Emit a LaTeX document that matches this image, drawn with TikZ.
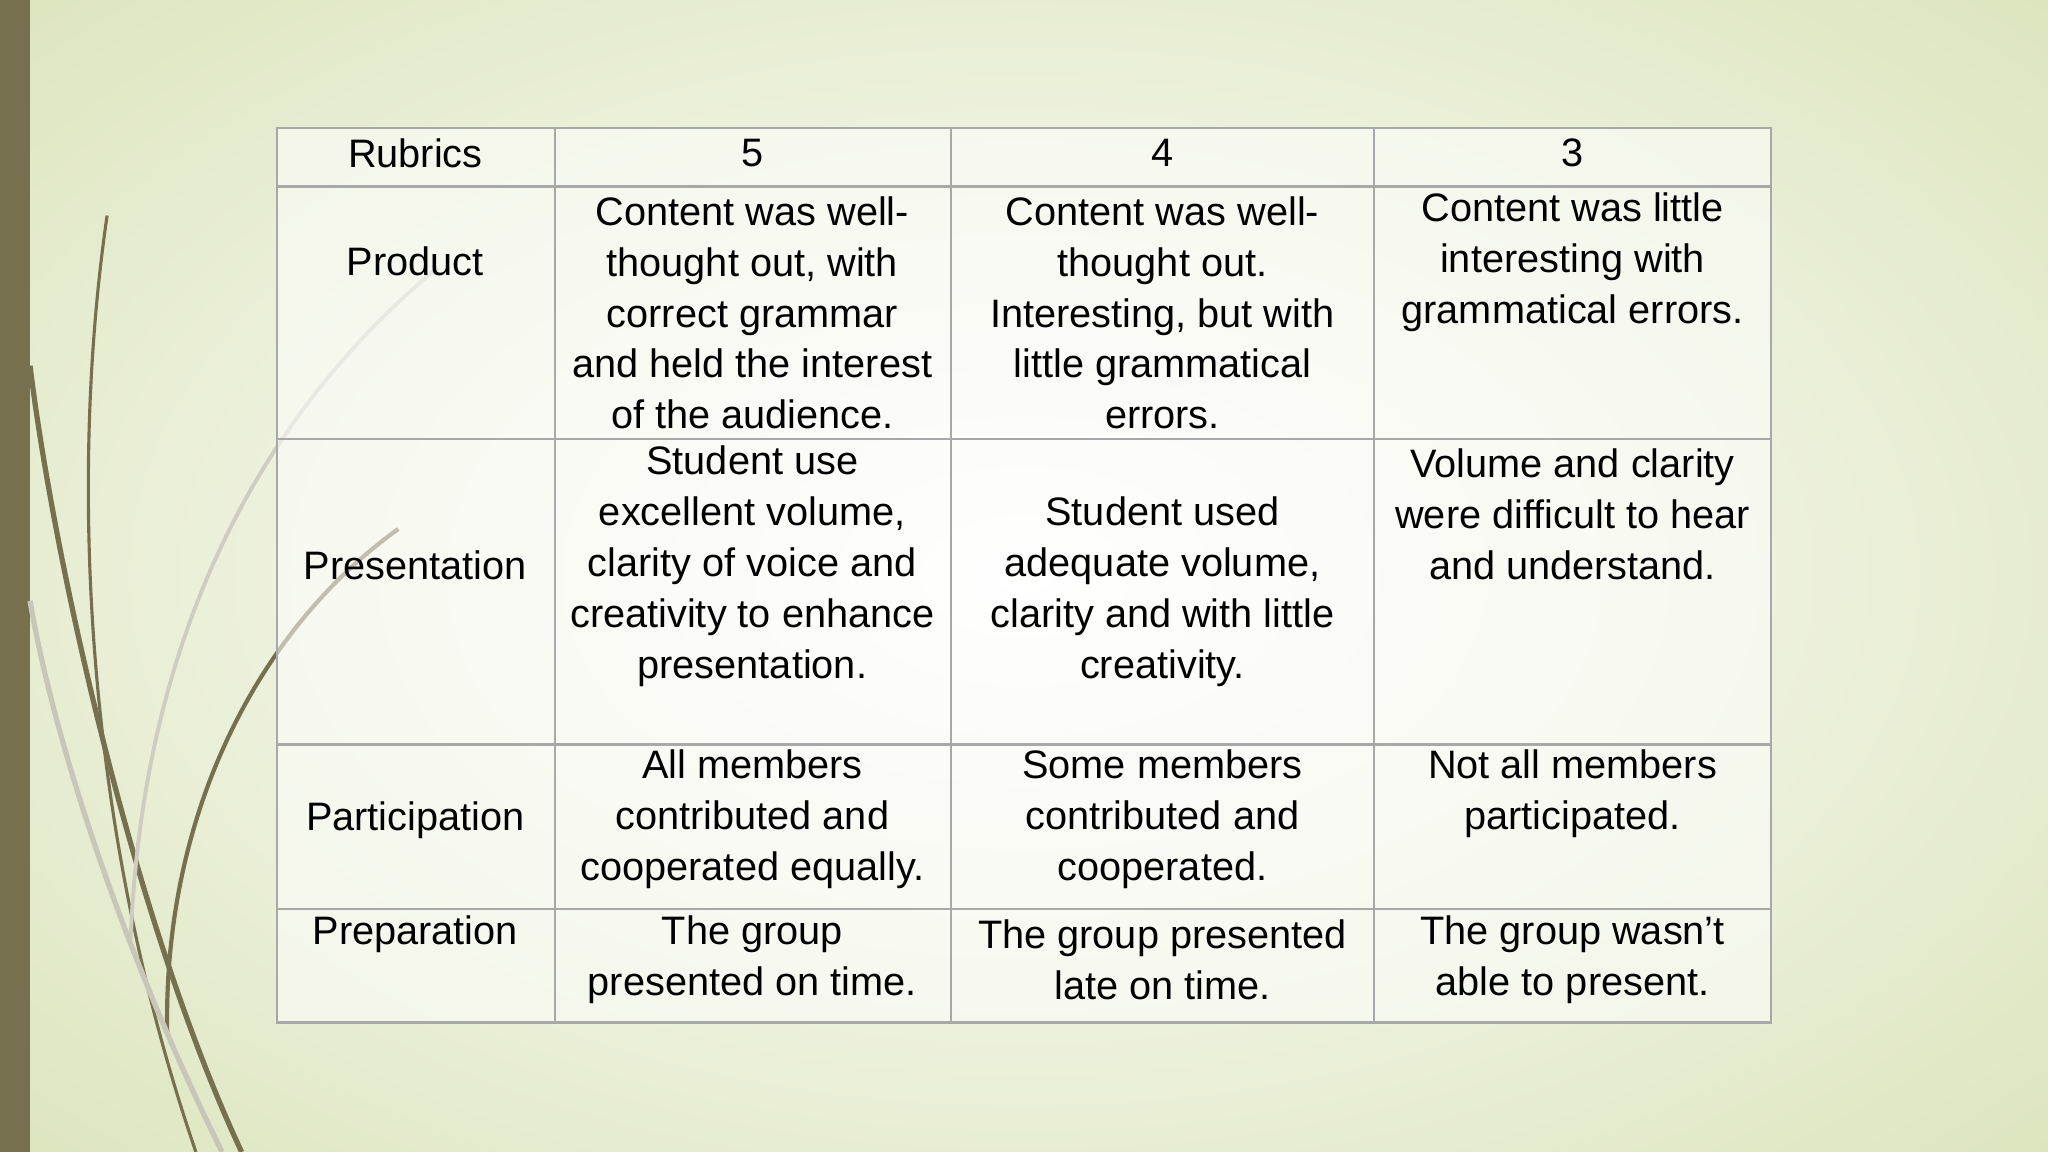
\documentclass[tikz,border=0pt]{standalone}
\usepackage{fontspec}
\setmainfont{Liberation Sans}
\definecolor{olive}{HTML}{76704F}
\definecolor{bgc}{HTML}{DDE5BE}
\definecolor{grid}{HTML}{A8A8A8}
\begin{document}
\begin{tikzpicture}[x=0.5pt,y=-0.5pt,
  cell/.style={align=center,font=\fontsize{15.2pt}{19.5pt}\selectfont,inner sep=0pt},
  curve/.style={draw=olive,line width=1.2pt}]
\useasboundingbox (0,0) rectangle (1568,882);
\shade[inner color=white,outer color=bgc] (-300,-200) rectangle (1868,1082);
\fill[olive] (0,0) rectangle (23,882);
% decorative curves
\draw[curve,line width=2pt] (185,882) .. controls (100,700) and (40,420) .. (23,280);
\draw[curve] (150,882) .. controls (60,620) and (55,350) .. (82,165);
\draw[curve,line width=1.6pt] (128,790) .. controls (125,620) and (200,480) .. (305,405);
\draw[curve,draw=olive!35,line width=1.5pt] (100,720) .. controls (110,460) and (220,300) .. (335,205);
\draw[curve,draw=olive!40,line width=2pt] (170,882) .. controls (90,720) and (40,560) .. (23,460);
% table
\fill[white,opacity=0.55] (212,98) rectangle (1356,783);
\draw[grid,line width=1pt] (212,98) rectangle (1356,783);
\foreach \x in {425,728,1052} \draw[grid,line width=1pt] (\x,98) -- (\x,783);
\foreach \y in {143,336,570,696} \draw[grid,line width=1pt] (212,\y) -- (1356,\y);
\node[cell] (h0) at (318,117) {Rubrics};
\node[cell] (h1) at (576,117) {5};
\node[cell] (h2) at (890,117) {4};
\node[cell] (h3) at (1204,117) {3};
\node[cell] (r1) at (318,200) {Product};
\node[cell] (c11) at (576,239.5) {Content was well-\\thought out, with\\correct grammar\\and held the interest\\of the audience.};
\node[cell] (c12) at (890,239.5) {Content was well-\\thought out.\\Interesting, but with\\little grammatical\\errors.};
\node[cell] (c13) at (1204,200.5) {Content was little\\interesting with\\grammatical errors.};
\node[cell] (r2) at (318,433) {Presentation};
\node[cell] (c21) at (576,433.5) {Student use\\excellent volume,\\clarity of voice and\\creativity to enhance\\presentation.};
\node[cell] (c22) at (890,453) {Student used\\adequate volume,\\clarity and with little\\creativity.};
\node[cell] (c23) at (1204,394) {Volume and clarity\\were difficult to hear\\and understand.};
\node[cell] (r3) at (318,628) {Participation};
\node[cell] (c31) at (576,627.5) {All members\\contributed and\\cooperated equally.};
\node[cell] (c32) at (890,627.5) {Some members\\contributed and\\cooperated.};
\node[cell] (c33) at (1204,608) {Not all members\\participated.};
\node[cell] (r4) at (318,715) {Preparation};
\node[cell] (c41) at (576,734.5) {The group\\presented on time.};
\node[cell] (c42) at (890,734.5) {The group presented\\late on time.};
\node[cell] (c43) at (1204,734.5) {The group wasn’t\\able to present.};
\end{tikzpicture}
\end{document}
